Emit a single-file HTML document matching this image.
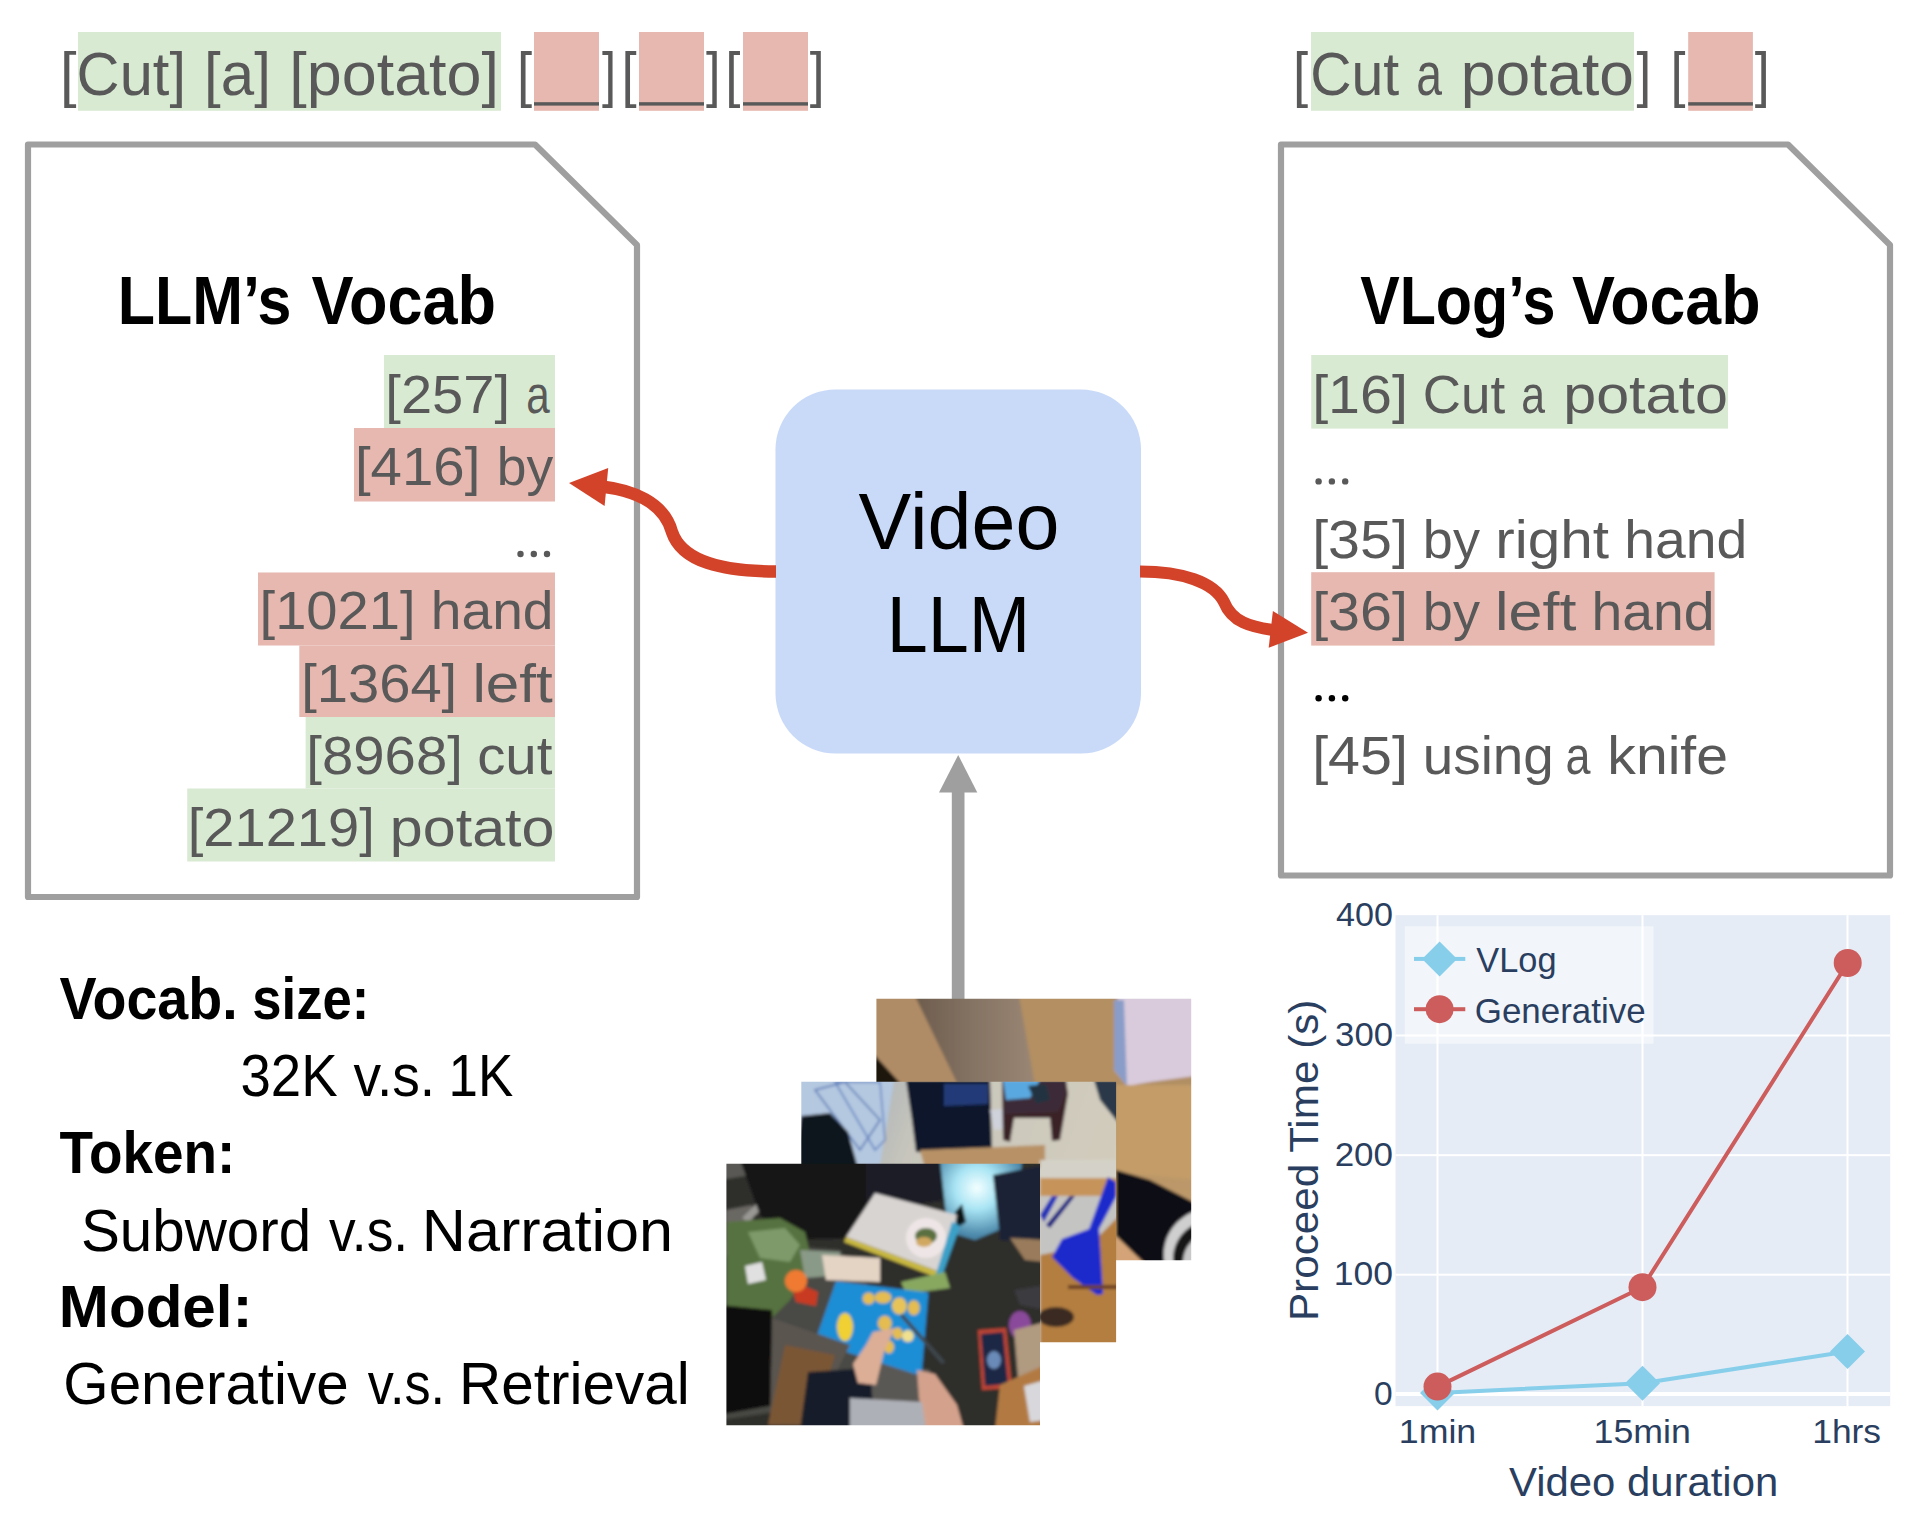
<!DOCTYPE html>
<html><head><meta charset="utf-8"><style>
html,body{margin:0;padding:0;background:#fff;}
svg{display:block;}
text{font-family:"Liberation Sans",sans-serif;white-space:pre;}
</style></head><body>
<svg width="1932" height="1536" viewBox="0 0 1932 1536">
<rect width="1932" height="1536" fill="#fff"/>
<rect x="78.00" y="32.00" width="423.00" height="78.80" fill="#d9ead3"/>
<rect x="534.00" y="32.00" width="65.00" height="78.80" fill="#e6b8af"/>
<rect x="534.00" y="102.20" width="65.00" height="3.40" fill="#595959"/>
<rect x="639.00" y="32.00" width="65.00" height="78.80" fill="#e6b8af"/>
<rect x="639.00" y="102.20" width="65.00" height="3.40" fill="#595959"/>
<rect x="743.00" y="32.00" width="65.00" height="78.80" fill="#e6b8af"/>
<rect x="743.00" y="102.20" width="65.00" height="3.40" fill="#595959"/>
<rect x="1311.00" y="32.00" width="323.00" height="78.80" fill="#d9ead3"/>
<rect x="1688.20" y="32.00" width="64.70" height="78.80" fill="#e6b8af"/>
<rect x="1688.20" y="102.20" width="64.70" height="3.40" fill="#595959"/>
<text transform="translate(60.00,94.50) scale(0.9893,1)" font-size="60.30" fill="#595959">[Cut]</text>
<text transform="translate(204.08,94.50) scale(0.9954,1)" font-size="60.30" fill="#595959">[a]</text>
<text transform="translate(289.27,94.50) scale(1.0427,1)" font-size="60.30" fill="#595959">[potato]</text>
<text transform="translate(517.07,94.50) scale(0.9046,1)" font-size="60.30" fill="#595959">[</text>
<text transform="translate(621.57,94.50) scale(0.9046,1)" font-size="60.30" fill="#595959">[</text>
<text transform="translate(725.27,94.50) scale(0.9046,1)" font-size="60.30" fill="#595959">[</text>
<text transform="translate(601.99,94.50) scale(0.8459,1)" font-size="60.30" fill="#595959">]</text>
<text transform="translate(706.08,94.50) scale(0.8627,1)" font-size="60.30" fill="#595959">]</text>
<text transform="translate(809.87,94.50) scale(0.8878,1)" font-size="60.30" fill="#595959">]</text>
<text transform="translate(1293.07,94.50) scale(0.9046,1)" font-size="60.30" fill="#595959">[</text>
<text transform="translate(1310.14,94.50) scale(0.9499,1)" font-size="60.30" fill="#595959">Cut</text>
<text transform="translate(1416.26,94.50) scale(0.7679,1)" font-size="60.30" fill="#595959">a</text>
<text transform="translate(1460.81,94.50) scale(1.0332,1)" font-size="60.30" fill="#595959">potato</text>
<text transform="translate(1636.38,94.50) scale(0.8794,1)" font-size="60.30" fill="#595959">]</text>
<text transform="translate(1670.41,94.50) scale(0.8962,1)" font-size="60.30" fill="#595959">[</text>
<text transform="translate(1754.87,94.50) scale(0.8962,1)" font-size="60.30" fill="#595959">]</text>
<path d="M28,144.5 L535,144.5 L637,245 L637,897 L28,897 Z" fill="none" stroke="#9f9f9f" stroke-width="6.2" stroke-linejoin="round"/>
<path d="M1281,144.5 L1788,144.5 L1890,245 L1890,875.5 L1281,875.5 Z" fill="none" stroke="#9f9f9f" stroke-width="6.2" stroke-linejoin="round"/>
<text transform="translate(117.68,324.10) scale(0.8978,1)" font-size="67.90" font-weight="bold" fill="#000">LLM’s</text>
<text transform="translate(311.62,324.10) scale(0.9281,1)" font-size="67.90" font-weight="bold" fill="#000">Vocab</text>
<text transform="translate(1360.14,323.80) scale(0.8723,1)" font-size="67.90" font-weight="bold" fill="#000">VLog’s</text>
<text transform="translate(1571.91,323.80) scale(0.9496,1)" font-size="67.90" font-weight="bold" fill="#000">Vocab</text>
<rect x="384.00" y="355.00" width="171.00" height="73.00" fill="#d9ead3"/>
<rect x="354.00" y="428.00" width="201.00" height="73.50" fill="#e6b8af"/>
<rect x="258.00" y="572.50" width="297.00" height="73.00" fill="#e6b8af"/>
<rect x="299.30" y="645.50" width="255.70" height="71.50" fill="#e6b8af"/>
<rect x="305.60" y="717.00" width="249.40" height="71.50" fill="#d9ead3"/>
<rect x="187.20" y="788.50" width="367.80" height="73.00" fill="#d9ead3"/>
<text transform="translate(385.36,412.50) scale(1.0286,1)" font-size="54.50" fill="#595959">[257]</text>
<text transform="translate(526.33,412.50) scale(0.7746,1)" font-size="54.50" fill="#595959">a</text>
<text transform="translate(354.94,485.10) scale(1.0348,1)" font-size="54.50" fill="#595959">[416]</text>
<text transform="translate(496.68,485.10) scale(0.9804,1)" font-size="54.50" fill="#595959">by</text>
<text transform="translate(259.56,629.00) scale(1.0302,1)" font-size="54.50" fill="#595959">[1021]</text>
<text transform="translate(430.84,629.00) scale(1.0122,1)" font-size="54.50" fill="#595959">hand</text>
<text transform="translate(301.16,701.60) scale(1.0302,1)" font-size="54.50" fill="#595959">[1364]</text>
<text transform="translate(472.41,701.60) scale(1.1041,1)" font-size="54.50" fill="#595959">left</text>
<text transform="translate(306.35,773.50) scale(1.0330,1)" font-size="54.50" fill="#595959">[8968]</text>
<text transform="translate(477.13,773.50) scale(1.0360,1)" font-size="54.50" fill="#595959">cut</text>
<text transform="translate(187.66,846.00) scale(1.0295,1)" font-size="54.50" fill="#595959">[21219]</text>
<text transform="translate(389.81,846.00) scale(1.0869,1)" font-size="54.50" fill="#595959">potato</text>
<circle cx="520.5" cy="554" r="3.2" fill="#595959"/>
<circle cx="533.8" cy="554" r="3.2" fill="#595959"/>
<circle cx="547" cy="554" r="3.2" fill="#595959"/>
<rect x="1311.20" y="355.00" width="416.80" height="73.60" fill="#d9ead3"/>
<rect x="1311.20" y="572.20" width="403.40" height="73.40" fill="#e6b8af"/>
<text transform="translate(1312.17,412.80) scale(1.0535,1)" font-size="54.50" fill="#595959">[16]</text>
<text transform="translate(1422.85,412.80) scale(0.9713,1)" font-size="54.50" fill="#595959">Cut</text>
<text transform="translate(1521.20,412.80) scale(0.7853,1)" font-size="54.50" fill="#595959">a</text>
<text transform="translate(1563.21,412.80) scale(1.0876,1)" font-size="54.50" fill="#595959">potato</text>
<text transform="translate(1312.17,558.00) scale(1.0535,1)" font-size="54.50" fill="#595959">[35]</text>
<text transform="translate(1422.84,558.00) scale(0.9916,1)" font-size="54.50" fill="#595959">by</text>
<text transform="translate(1495.34,558.00) scale(1.0733,1)" font-size="54.50" fill="#595959">right</text>
<text transform="translate(1624.33,558.00) scale(1.0149,1)" font-size="54.50" fill="#595959">hand</text>
<text transform="translate(1312.17,629.80) scale(1.0535,1)" font-size="54.50" fill="#595959">[36]</text>
<text transform="translate(1422.84,629.80) scale(0.9916,1)" font-size="54.50" fill="#595959">by</text>
<text transform="translate(1495.05,629.80) scale(1.1187,1)" font-size="54.50" fill="#595959">left</text>
<text transform="translate(1591.53,629.80) scale(1.0149,1)" font-size="54.50" fill="#595959">hand</text>
<text transform="translate(1312.17,774.00) scale(1.0535,1)" font-size="54.50" fill="#595959">[45]</text>
<text transform="translate(1422.79,774.00) scale(1.0058,1)" font-size="54.50" fill="#595959">using</text>
<text transform="translate(1565.51,774.00) scale(0.8246,1)" font-size="54.50" fill="#595959">a</text>
<text transform="translate(1607.31,774.00) scale(1.0486,1)" font-size="54.50" fill="#595959">knife</text>
<circle cx="1318.6" cy="481.4" r="3.2" fill="#595959"/>
<circle cx="1318.6" cy="698.2" r="3.2" fill="#000"/>
<circle cx="1331.9" cy="481.4" r="3.2" fill="#595959"/>
<circle cx="1331.9" cy="698.2" r="3.2" fill="#000"/>
<circle cx="1345.2" cy="481.4" r="3.2" fill="#595959"/>
<circle cx="1345.2" cy="698.2" r="3.2" fill="#000"/>
<rect x="775.5" y="389.5" width="365.5" height="364" rx="60" ry="60" fill="#c9daf8"/>
<text transform="translate(858.58,548.80) scale(0.9984,1)" font-size="79.20" fill="#000">Video</text>
<text transform="translate(886.65,651.60) scale(0.9317,1)" font-size="79.20" fill="#000">LLM</text>
<path d="M776,571.4 C722,571.4 682,562 672,532 C664,502 632,490 600,486.3" fill="none" stroke="#d2432a" stroke-width="12.5"/>
<path d="M569,483 L608.2,467.9 L604.6,506 Z" fill="#d2432a"/>
<path d="M1140,571.5 C1182,571.5 1214,582 1224,602 C1232,622 1250,627 1276,630.5" fill="none" stroke="#d2432a" stroke-width="12"/>
<path d="M1308,632.8 L1272.9,611 L1268.7,647.8 Z" fill="#d2432a"/>
<rect x="951.8" y="790" width="12.7" height="210" fill="#9f9f9f"/>
<path d="M958.2,755 L977.3,792.4 L939,792.4 Z" fill="#9f9f9f"/>
<text transform="translate(59.57,1018.90) scale(0.9327,1)" font-size="59.60" font-weight="bold" fill="#000">Vocab.</text>
<text transform="translate(252.31,1018.90) scale(0.8830,1)" font-size="59.60" font-weight="bold" fill="#000">size:</text>
<text transform="translate(240.42,1095.90) scale(0.9165,1)" font-size="59.60" fill="#000">32K</text>
<text transform="translate(353.38,1095.90) scale(0.9261,1)" font-size="59.60" fill="#000">v.s.</text>
<text transform="translate(448.48,1095.90) scale(0.8877,1)" font-size="59.60" fill="#000">1K</text>
<text transform="translate(59.44,1173.30) scale(0.9208,1)" font-size="59.60" font-weight="bold" fill="#000">Token:</text>
<text transform="translate(80.92,1250.60) scale(0.9789,1)" font-size="59.60" fill="#000">Subword</text>
<text transform="translate(329.09,1250.60) scale(0.8958,1)" font-size="59.60" fill="#000">v.s.</text>
<text transform="translate(421.79,1250.60) scale(1.0251,1)" font-size="59.60" fill="#000">Narration</text>
<text transform="translate(58.83,1327.00) scale(1.0089,1)" font-size="59.60" font-weight="bold" fill="#000">Model:</text>
<text transform="translate(63.28,1404.40) scale(0.9788,1)" font-size="59.60" fill="#000">Generative</text>
<text transform="translate(367.79,1404.40) scale(0.8752,1)" font-size="59.60" fill="#000">v.s.</text>
<text transform="translate(459.10,1404.40) scale(0.9812,1)" font-size="59.60" fill="#000">Retrieval</text>
<defs>
<clipPath id="cpB"><rect x="876.4" y="998.8" width="314.8" height="261.4"/></clipPath>
<clipPath id="cpM"><rect x="801.3" y="1081.7" width="314.8" height="260.6"/></clipPath>
<clipPath id="cpF"><rect x="726.4" y="1163.8" width="313.6" height="261.4"/></clipPath>
<filter id="bl" x="-5%" y="-5%" width="110%" height="110%"><feGaussianBlur stdDeviation="1.6"/></filter>
<filter id="bl2" x="-20%" y="-20%" width="140%" height="140%"><feGaussianBlur stdDeviation="5"/></filter>
<linearGradient id="gDoor" x1="0" y1="0" x2="1" y2="0"><stop offset="0" stop-color="#6c5b4c"/><stop offset="0.5" stop-color="#857363"/><stop offset="1" stop-color="#9a8674"/></linearGradient>
<linearGradient id="gTanR" x1="0" y1="0" x2="0" y2="1"><stop offset="0" stop-color="#a88760"/><stop offset="1" stop-color="#c49e6c"/></linearGradient>
<radialGradient id="gGlare" cx="0.45" cy="0.35" r="0.6"><stop offset="0" stop-color="#f4ffff"/><stop offset="0.45" stop-color="#a8e4f4"/><stop offset="1" stop-color="#4a86a8"/></radialGradient>
<linearGradient id="gFloor" x1="0" y1="0" x2="1" y2="0.3"><stop offset="0" stop-color="#8fa0b4"/><stop offset="0.4" stop-color="#c8c6bc"/><stop offset="1" stop-color="#d2ccbc"/></linearGradient>
</defs>
<!-- back photo -->
<g clip-path="url(#cpB)"><g filter="url(#bl)">
<rect x="870" y="990" width="330" height="280" fill="url(#gTanR)"/>
<polygon points="870,990 912,990 960,1085 870,1085" fill="#b08c66"/>
<polygon points="870,1050 902,1085 870,1085" fill="#1a1410"/>
<polygon points="912,990 1018,990 1035,1085 958,1085" fill="url(#gDoor)"/>
<polygon points="1018,990 1120,990 1116,1085 1035,1085" fill="#b38f62"/>
<polygon points="1118,990 1195,990 1195,1076 1150,1082 1127,1086 1114,1070" fill="#d9cbdc"/>
<polygon points="1114,1000 1124,1000 1127,1086 1114,1070" fill="#8a9cc8"/>
<polygon points="1116,1085 1195,1085 1195,1180 1116,1172" fill="#c39c68"/>
<polygon points="1116,1170 1150,1180 1195,1203 1195,1265 1146,1265 1116,1236" fill="#0c0c18"/>
<path d="M1164,1260 C1162,1240 1172,1220 1195,1211 L1195,1265 L1166,1265 Z" fill="#cfcfcf"/>
<path d="M1173,1262 C1172,1246 1180,1232 1195,1224 L1195,1265 L1175,1265 Z" fill="#121216"/>
<path d="M1183,1262 C1183,1252 1188,1244 1195,1238 L1195,1265 L1185,1265 Z" fill="#c8c8c8"/>
<polygon points="1116,1236 1146,1265 1116,1265" fill="#d4a478"/>
</g></g>
<!-- middle photo -->
<g clip-path="url(#cpM)"><g filter="url(#bl)">
<rect x="795" y="1075" width="330" height="275" fill="url(#gFloor)"/>
<polygon points="795,1075 895,1075 880,1165 795,1165" fill="#b4c8e0"/>
<polygon points="815,1090 845,1082 880,1120 860,1150" fill="none" stroke="#5070b0" stroke-width="1.5"/>
<polygon points="835,1082 880,1082 885,1140 875,1150" fill="none" stroke="#6080c0" stroke-width="1.5"/>
<polygon points="801,1116 830,1113 848,1132 858,1168 795,1168" fill="#10121c"/>
<polygon points="906,1080 990,1080 992,1150 965,1154 916,1152 912,1120" fill="#10162a"/>
<polygon points="944,1084 988,1084 988,1104 944,1106" fill="#243a78"/>
<polygon points="990,1110 1010,1108 1012,1128 994,1130" fill="#cfd2da"/>
<polygon points="1002,1080 1066,1080 1068,1094 1060,1140 1052,1141 1050,1118 1014,1118 1010,1142 1003,1140" fill="#3a2428"/>
<polygon points="1002,1080 1066,1080 1066,1094 1058,1112 1005,1114" fill="#3e2c38"/><polygon points="1003,1080 1040,1080 1030,1098 1006,1100" fill="#5aa8e0"/><polygon points="1028,1086 1046,1084 1050,1100 1036,1104" fill="#203040"/>
<polygon points="1094,1080 1120,1080 1120,1125 1100,1100" fill="#2a3848"/>
<polygon points="920,1150 1045,1145 1045,1168 925,1168" fill="#b89266"/>
<rect x="1040" y="1160" width="80" height="190" fill="#b47e40"/>
<rect x="1040" y="1160" width="80" height="19" fill="#d4d2c8"/>
<rect x="1040" y="1178" width="80" height="18" fill="#c6945a"/>
<polygon points="1040,1196 1120,1196 1120,1215 1090,1245 1040,1255" fill="#c4c4c2"/>
<polygon points="1040,1215 1052,1196 1058,1196 1044,1222" fill="#2030b8"/>
<polygon points="1046,1225 1070,1196 1075,1196 1050,1228" fill="#101880"/>
<polygon points="1108,1177 1116,1182 1116,1197 1099,1229 1103,1294 1097,1295 1073,1278 1052,1257 1062,1239 1089,1229" fill="#1a2ccc"/>
<ellipse cx="1056" cy="1317" rx="18" ry="10" fill="#3a2a22"/><rect x="1068" y="1285" width="50" height="4" fill="#6a4020"/>
</g></g>
<!-- front photo -->
<g clip-path="url(#cpF)"><g filter="url(#bl)">
<rect x="720" y="1155" width="330" height="280" fill="#2e2d2b"/>
<polygon points="720,1240 840,1250 880,1300 860,1400 720,1420" fill="#4a4845"/>
<polygon points="870,1360 930,1370 930,1410 870,1400" fill="#5a5855"/>
<polygon points="720,1160 780,1160 770,1172 720,1180" fill="#5a5854"/>
<polygon points="726,1210 752,1205 756,1250 726,1256" fill="#6a6864"/>
<polygon points="770,1190 778,1194 748,1222 742,1218" fill="#9a9894"/>
<polygon points="740,1160 870,1160 870,1200 850,1238 790,1240 760,1215" fill="#161616"/>
<polygon points="866,1160 946,1160 946,1200 880,1210 866,1200" fill="#1a1e26"/>
<polygon points="940,1160 1022,1160 1018,1222 975,1240 948,1232" fill="url(#gGlare)"/>
<polygon points="993,1175 1045,1165 1045,1245 1000,1240" fill="#1b2434"/>
<polygon points="955,1212 962,1204 966,1222 957,1228" fill="#101418"/>
<polygon points="1010,1238 1045,1240 1045,1262 1025,1260" fill="#9a7c5c"/>
<polygon points="846,1237 875,1193 957,1215 940,1272" fill="#d8d4d2"/>
<polygon points="846,1237 940,1272 938,1278 844,1242" fill="#c8b840"/>
<polygon points="952,1222 960,1226 942,1276 936,1274" fill="#3aa0c8"/>
<circle cx="926" cy="1238" r="20" fill="#eee6e6"/>
<ellipse cx="926" cy="1236" rx="11" ry="8" fill="#5a7040"/>
<ellipse cx="924" cy="1242" rx="8" ry="5" fill="#d0a860"/>
<polygon points="727,1222 780,1218 805,1232 812,1262 790,1300 772,1318 727,1312" fill="#56723f"/>
<polygon points="748,1232 785,1228 800,1245 790,1262 760,1258" fill="#7e9a6a"/>
<polygon points="745,1266 762,1262 766,1280 748,1284" fill="#e0e0e0"/>
<polygon points="800,1250 840,1252 842,1275 805,1278" fill="#8a9a88"/>
<polygon points="822,1255 880,1258 880,1282 826,1280" fill="#e4d4c4"/>
<polygon points="790,1280 818,1292 816,1306 796,1302" fill="#c83a24"/>
<circle cx="796" cy="1281" r="11" fill="#f07a30"/>
<polygon points="901,1282 945,1272 950,1288 906,1294" fill="#88a860"/>
<polygon points="836,1281.3 928.4,1292.5 921.5,1376 814.8,1342" fill="#1f8ed6"/>
<ellipse cx="868.6" cy="1298.4" rx="6" ry="6" fill="#e4bc50"/>
<ellipse cx="883" cy="1297.6" rx="8.5" ry="6" fill="#e4bc50"/>
<ellipse cx="899.3" cy="1306" rx="7.5" ry="8.5" fill="#e8c458"/>
<ellipse cx="913.8" cy="1307.8" rx="6" ry="7.5" fill="#e4bc50"/>
<ellipse cx="884.8" cy="1323.2" rx="7" ry="7.5" fill="#e4bc50"/>
<ellipse cx="897.6" cy="1333.4" rx="5" ry="6" fill="#e4bc50"/>
<ellipse cx="907.9" cy="1336" rx="6" ry="6" fill="#f0e090"/>
<ellipse cx="889" cy="1347" rx="5" ry="6.5" fill="#e4bc50"/>
<ellipse cx="845" cy="1327" rx="8" ry="14" fill="#f0d030"/>
<polygon points="900,1316 903,1314 945,1362 942,1364" fill="#404850"/>
<polygon points="720,1305 772,1310 775,1405 720,1415" fill="#0a0a0a"/>
<polygon points="772,1318 850,1345 810,1425 770,1425" fill="#5a5450"/>
<polygon points="785,1345 835,1355 815,1425 768,1425" fill="#7a5634"/>
<polygon points="808,1372 870,1368 875,1430 800,1430" fill="#181c2c"/>
<polygon points="873,1332 895,1328 884,1352 876,1385 858,1383 853,1364 866,1345" fill="#dcae96"/>
<polygon points="917,1370 935,1374 957,1405 964,1430 926,1430 919,1398" fill="#d4a28c"/>
<polygon points="850,1398 922,1402 926,1430 850,1430" fill="#aeb0b8"/>
<polygon points="978,1330 1006,1328 1012,1388 982,1390" fill="#c04434"/>
<polygon points="981,1334 1003,1332 1008,1384 985,1386" fill="#1c2844"/>
<ellipse cx="994" cy="1360" rx="7" ry="9" fill="#6a8ab8"/>
<ellipse cx="1020" cy="1325" rx="11" ry="14" fill="#8a4a9a"/>
<polygon points="1014,1330 1045,1322 1045,1380 1018,1378" fill="#b09a80"/>
<polygon points="1000,1385 1045,1365 1045,1430 995,1430" fill="#b27a42"/>
<polygon points="1024,1386 1045,1380 1045,1420 1030,1422" fill="#d8d8dc"/>
<polygon points="1014,1290 1045,1285 1045,1310 1020,1305" fill="#3a3a40"/>
</g></g>

<rect x="1395.50" y="915.20" width="494.70" height="490.90" fill="#e5ecf6"/>
<rect x="1395.50" y="1034.50" width="494.70" height="2.00" fill="#fff"/>
<rect x="1395.50" y="1154.20" width="494.70" height="2.00" fill="#fff"/>
<rect x="1395.50" y="1273.70" width="494.70" height="2.00" fill="#fff"/>
<rect x="1436.50" y="915.20" width="2.00" height="490.90" fill="#fff"/>
<rect x="1641.50" y="915.20" width="2.00" height="490.90" fill="#fff"/>
<rect x="1846.50" y="915.20" width="2.00" height="490.90" fill="#fff"/>
<rect x="1395.50" y="1392.00" width="494.70" height="4.00" fill="#fff"/>
<polyline points="1437.5,1393 1642.5,1383.2 1847.5,1351.4" fill="none" stroke="#87ceeb" stroke-width="4"/>
<path d="M1437.5,1375.5 L1455.0,1393 L1437.5,1410.5 L1420.0,1393 Z" fill="#87ceeb"/>
<path d="M1642.5,1365.7 L1660.0,1383.2 L1642.5,1400.7 L1625.0,1383.2 Z" fill="#87ceeb"/>
<path d="M1847.5,1333.9 L1865.0,1351.4 L1847.5,1368.9 L1830.0,1351.4 Z" fill="#87ceeb"/>
<polyline points="1437.5,1386.6 1642.5,1287.2 1847.7,963" fill="none" stroke="#cd5c5c" stroke-width="4"/>
<circle cx="1437.5" cy="1386.6" r="14" fill="#cd5c5c"/>
<circle cx="1642.5" cy="1287.2" r="14" fill="#cd5c5c"/>
<circle cx="1847.7" cy="963" r="14" fill="#cd5c5c"/>
<rect x="1404.80" y="926.30" width="248.70" height="117.40" fill="#fff" fill-opacity="0.5"/>
<rect x="1414.00" y="956.90" width="51.30" height="4.00" fill="#87ceeb"/>
<path d="M1439.6,941.4 L1457.1,958.9 L1439.6,976.4 L1422.1,958.9 Z" fill="#87ceeb"/>
<rect x="1414.00" y="1007.20" width="51.30" height="4.00" fill="#cd5c5c"/>
<circle cx="1439.6" cy="1009.2" r="14" fill="#cd5c5c"/>
<text transform="translate(1336.05,926.40) scale(1.0192,1)" font-size="33.50" fill="#2a3f5f">400</text>
<text transform="translate(1335.08,1046.10) scale(1.0369,1)" font-size="33.50" fill="#2a3f5f">300</text>
<text transform="translate(1334.65,1165.80) scale(1.0448,1)" font-size="33.50" fill="#2a3f5f">200</text>
<text transform="translate(1333.70,1285.30) scale(1.0623,1)" font-size="33.50" fill="#2a3f5f">100</text>
<text transform="translate(1373.93,1405.00) scale(1.0012,1)" font-size="33.50" fill="#2a3f5f">0</text>
<text transform="translate(1398.78,1443.00) scale(1.0671,1)" font-size="33.50" fill="#2a3f5f">1min</text>
<text transform="translate(1593.59,1443.00) scale(1.0651,1)" font-size="33.50" fill="#2a3f5f">15min</text>
<text transform="translate(1812.21,1443.00) scale(1.0563,1)" font-size="33.50" fill="#2a3f5f">1hrs</text>
<text transform="translate(1476.36,972.00) scale(0.9758,1)" font-size="35.20" fill="#2a3f5f">VLog</text>
<text transform="translate(1474.75,1022.70) scale(0.9930,1)" font-size="35.20" fill="#2a3f5f">Generative</text>
<text transform="translate(1509.03,1496.00) scale(1.0136,1)" font-size="41.30" fill="#2a3f5f">Video duration</text>
<g transform="translate(1317.6,1317.6) rotate(-90)"><text transform="translate(-3.46,0) scale(1.0503,1)" font-size="40.2" fill="#2a3f5f">Proceed Time (s)</text></g>
</svg>
</body></html>
